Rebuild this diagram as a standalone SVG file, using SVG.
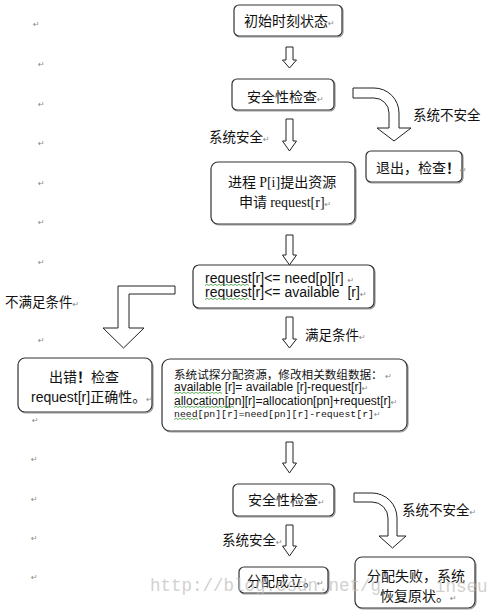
<svg xmlns="http://www.w3.org/2000/svg" width="495" height="613" viewBox="0 0 495 613">
<style>
.box{fill:#fff;stroke:#333;stroke-width:1.2}
.sh{fill:none;stroke:#999;stroke-width:1.2}
.arr{fill:#fff;stroke:#222;stroke-width:1}
.zh{font-family:"Noto Sans CJK SC","Liberation Sans",sans-serif;font-size:14px;fill:#111}
.en{font-family:"Liberation Sans","Noto Sans CJK SC",sans-serif;font-size:14px;fill:#111}
.se{font-family:"Liberation Serif",serif}
.mono{font-family:"Liberation Mono",monospace;font-size:9.8px;fill:#111}
.pm{font-family:"DejaVu Sans",sans-serif;font-size:8px;fill:#888}
.sq{fill:none;stroke:#3c9a3c;stroke-width:0.8}
.wm{font-family:"Liberation Mono",monospace;font-size:17.5px;fill:#bbb;fill-opacity:0.7}
</style>
<rect width="495" height="613" fill="#fff"/>

<g id="marks" class="pm">
<text x="33" y="27">↵</text>
<text x="38" y="67">↵</text>
<text x="38" y="107">↵</text>
<text x="38" y="146">↵</text>
<text x="38" y="186">↵</text>
<text x="38" y="225">↵</text>
<text x="38" y="265">↵</text>
<text x="38" y="343">↵</text>
<text x="32" y="423">↵</text>
<text x="31" y="462">↵</text>
<text x="31" y="502">↵</text>
<text x="31" y="541">↵</text>
<text x="31" y="580">↵</text>
</g>

<g id="connectors">
<path class="arr" d="M286,47 H293 V60 H296.5 L289.5,68 L282.5,60 H286 Z"/>
<path class="arr" d="M286,119 H293 V141 H296.5 L289.5,151 L282.5,141 H286 Z"/>
<path class="arr" d="M286,235 H293 V255 H296.5 L289.5,265 L282.5,255 H286 Z"/>
<path class="arr" d="M286,317 H293 V339 H296.5 L289.5,348 L282.5,339 H286 Z"/>
<path class="arr" d="M286,442 H293 V463 H296.5 L289.5,473 L282.5,463 H286 Z"/>
<path class="arr" d="M286,525 H293 V546 H296.5 L289.5,556 L282.5,546 H286 Z"/>
<path class="arr" d="M175,286 H118 V328 H103 L123.5,348 L144,328 H129 V294 H175 Z"/>
<path class="arr" d="M353,88 H374 A25,25 0 0 1 399,113 V128 H411 L394,141 L377,128 H389 V113 A15,15 0 0 0 374,98 H353 Z"/>
<path class="arr" d="M354,493 H372 A25,25 0 0 1 397,518 V536 H406 L392.5,548 L379,536 H388 V518 A16,16 0 0 0 372,502 H354 Z"/>
</g>

<g id="labels" class="zh" style="font-size:13.5px">
<text x="209" y="142">系统安全<tspan class="pm">↵</tspan></text>
<text x="413" y="120">系统不安全</text>
<text x="305" y="340">满足条件<tspan class="pm">↵</tspan></text>
<text x="5" y="307">不满足条件<tspan class="pm">↵</tspan></text>
<text x="222" y="545">系统安全<tspan class="pm">↵</tspan></text>
<text x="402" y="515">系统不安全<tspan class="pm">↵</tspan></text>
</g>

<g id="n1">
<rect class="sh" x="235" y="6" width="108" height="31" rx="5"/>
<rect class="box" x="234" y="5" width="108" height="31" rx="5"/>
<text class="zh" x="244" y="26">初始时刻状态<tspan class="pm">↵</tspan></text>
</g>

<g id="n2">
<rect class="sh" x="233" y="80" width="102" height="31" rx="5"/>
<rect class="box" x="232" y="79" width="102" height="31" rx="5"/>
<text class="zh" x="247" y="102">安全性检查<tspan class="pm">↵</tspan></text>
</g>

<g id="n_exit">
<rect class="sh" x="367" y="152" width="96" height="31" rx="5"/>
<rect class="box" x="366" y="151" width="96" height="31" rx="5"/>
<text class="zh" x="376" y="173">退出，检查<tspan font-weight="bold">！</tspan><tspan class="pm">↵</tspan></text>
</g>

<g id="n3">
<rect class="sh" x="212" y="163" width="144" height="62" rx="7"/>
<rect class="box" x="211" y="162" width="144" height="62" rx="7"/>
<text class="zh" x="228" y="187">进程 <tspan class="se">P[i]</tspan>提出资源</text>
<text class="zh" x="239" y="207">申请 <tspan class="se">request[r]</tspan><tspan class="pm">↵</tspan></text>
</g>

<g id="n4">
<rect class="sh" x="194" y="266" width="181" height="43" rx="6"/>
<rect class="box" x="193" y="265" width="181" height="43" rx="6"/>
<text class="en" x="205" y="283">request[r]&lt;= need[p][r]&#160;<tspan class="pm">↵</tspan></text>
<text class="en" x="205" y="297">request[r]&lt;= available&#160; [r]<tspan class="pm">↵</tspan></text>
<path class="sq" d="M205,285.5 l2,-1.2 l2,1.2 l2,-1.2 l2,1.2 l2,-1.2 l2,1.2 l2,-1.2 l2,1.2 l2,-1.2 l2,1.2 l2,-1.2 l2,1.2 l2,-1.2 l2,1.2 l2,-1.2 l2,1.2 l2,-1.2 l2,1.2 l2,-1.2 l2,1.2 l2,-1.2 l2,1.2"/>
<path class="sq" d="M205,299.5 l2,-1.2 l2,1.2 l2,-1.2 l2,1.2 l2,-1.2 l2,1.2 l2,-1.2 l2,1.2 l2,-1.2 l2,1.2 l2,-1.2 l2,1.2 l2,-1.2 l2,1.2 l2,-1.2 l2,1.2 l2,-1.2 l2,1.2 l2,-1.2 l2,1.2 l2,-1.2 l2,1.2"/>
</g>

<g id="n5">
<rect class="sh" x="19" y="359" width="134" height="54" rx="7"/>
<rect class="box" x="18" y="358" width="134" height="54" rx="7"/>
<text class="zh" x="49" y="382">出错<tspan font-weight="bold">！</tspan>检查</text>
<text class="en" x="31" y="402">request[r]<tspan class="zh">正确性。</tspan><tspan class="pm">↵</tspan></text>
</g>

<g id="n6">
<rect class="sh" x="163" y="360" width="245" height="72" rx="8"/>
<rect class="box" x="162" y="359" width="245" height="72" rx="8"/>
<text class="zh" x="174" y="379" style="font-size:11.6px">系统试探分配资源，修改相关数组数据：<tspan class="pm">&#160;↵</tspan></text>
<text class="en" x="174" y="391" style="font-size:12px">available [r]= available [r]-request[r]<tspan class="pm">↵</tspan></text>
<text class="en" x="174" y="405" style="font-size:12px">allocation[pn][r]=allocation[pn]+request[r]<tspan class="pm">↵</tspan></text>
<text class="mono" x="174" y="417">need[pn][r]=need[pn][r]-request[r]<tspan class="pm">↵</tspan></text>
<path class="sq" d="M174,393.5 l2,-1.2 l2,1.2 l2,-1.2 l2,1.2 l2,-1.2 l2,1.2 l2,-1.2 l2,1.2 l2,-1.2 l2,1.2 l2,-1.2 l2,1.2 l2,-1.2 l2,1.2 l2,-1.2 l2,1.2 l2,-1.2 l2,1.2 l2,-1.2 l2,1.2 l2,-1.2 l2,1.2 l2,-1.2 l2,1.2"/>
<path class="sq" d="M174,407.5 l2,-1.2 l2,1.2 l2,-1.2 l2,1.2 l2,-1.2 l2,1.2 l2,-1.2 l2,1.2 l2,-1.2 l2,1.2 l2,-1.2 l2,1.2 l2,-1.2 l2,1.2 l2,-1.2 l2,1.2 l2,-1.2 l2,1.2 l2,-1.2 l2,1.2 l2,-1.2 l2,1.2 l2,-1.2 l2,1.2 l2,-1.2 l2,1.2 l2,-1.2 l2,1.2 l2,-1.2 l2,1.2"/>
<path class="sq" d="M174,419.5 l2,-1.2 l2,1.2 l2,-1.2 l2,1.2 l2,-1.2 l2,1.2 l2,-1.2 l2,1.2 l2,-1.2 l2,1.2 l2,-1.2 l2,1.2"/>
</g>

<g id="n7">
<rect class="sh" x="234" y="485" width="101" height="32" rx="5"/>
<rect class="box" x="233" y="484" width="101" height="32" rx="5"/>
<text class="zh" x="248" y="505">安全性检查<tspan class="pm">↵</tspan></text>
</g>

<g id="n8">
<rect class="sh" x="240" y="568" width="89" height="26" rx="5"/>
<rect class="box" x="239" y="567" width="89" height="26" rx="5"/>
<text class="zh" x="247" y="586">分配成立。<tspan class="pm">↵</tspan></text>
</g>

<g id="n9">
<rect class="sh" x="356" y="558" width="120" height="51" rx="7"/>
<rect class="box" x="355" y="557" width="120" height="51" rx="7"/>
<text class="zh" x="367" y="581">分配失败，系统</text>
<text class="zh" x="380" y="601">恢复原状。<tspan class="pm">↵</tspan></text>
</g>

<g id="watermark" class="wm">
<text x="150" y="591">http://blog.csdn.net/g</text>
<text x="435" y="592">inseu</text>
</g>
</svg>
